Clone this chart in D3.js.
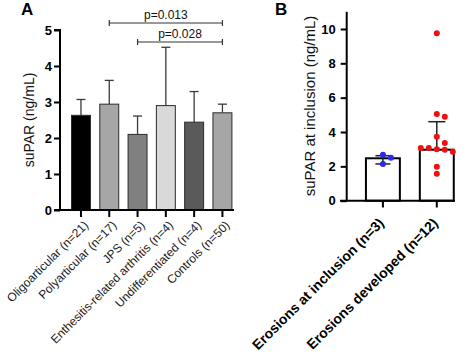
<!DOCTYPE html>
<html>
<head>
<meta charset="utf-8">
<script src="https://cdn.jsdelivr.net/npm/d3@7"></script>
<style>
  body { margin: 0; background: #fff; }
  svg { display: block; font-family: "Liberation Sans", Arial, sans-serif; }
</style>
</head>
<body>
<svg id="chart" width="474" height="352"></svg>
<script>
// panel A - suPAR by JIA subgroup (mean + SD)
const groupsA = ["Oligoarticular (n=21)", "Polyarticular (n=17)", "JPS (n=5)",
  "Enthesitis-related arthritis (n=4)", "Undifferentiated (n=4)", "Controls (n=50)"];
const meanA = [2.63, 2.94, 2.10, 2.90, 2.44, 2.70];
const sdTopA = [3.07, 3.60, 2.61, 4.52, 3.29, 2.94];
const fillA = ["#000000", "#a6a6a6", "#808080", "#d9d9d9", "#5a5a5a", "#a6a6a6"];
const pLabels = ["p=0.013", "p=0.028"];
const pPairs = [[1, 5], [2, 5]];

// panel B - erosions
const groupsB = ["Erosions at inclusion (n=3)", "Erosions developed (n=12)"];
const barB = [2.47, 2.97];
const errHighB = [2.62, 4.60];
const errLowB = [2.14, null];
const pointsB = [
  [2.68, 2.50, 2.14],
  [9.75, 5.05, 4.89, 3.73, 3.36, 3.07, 3.07, 2.99, 2.97, 2.85, 1.98, 1.57]
];
const dotColor = ["#2a2ae8", "#ee1111"];

const svg = d3.select("#chart");

// ---------- panel A ----------
let xA = d3.scaleBand().domain(groupsA).range([60, 243.4]).paddingInner(0.33).paddingOuter(0.406);
let yA = d3.scaleLinear().domain([0, 5]).range([210, 30]);

let gA = svg.append("g");

gA.selectAll("rect.bar")
  .data(groupsA)
  .join("rect")
  .attr("class", "bar")
  .attr("x", d => xA(d))
  .attr("width", xA.bandwidth())
  .attr("y", (d, i) => yA(meanA[i]))
  .attr("height", (d, i) => yA(0) - yA(meanA[i]))
  .attr("fill", (d, i) => fillA[i])
  .attr("stroke", "#2b2b2b")
  .attr("stroke-width", 1);

let errA = gA.append("g").attr("stroke", "#3a3a3a").attr("stroke-width", 1.3);
groupsA.forEach((g, i) => {
  let cx = xA(g) + xA.bandwidth() / 2;
  errA.append("line").attr("x1", cx).attr("x2", cx).attr("y1", yA(meanA[i])).attr("y2", yA(sdTopA[i]));
  errA.append("line").attr("x1", cx - 4.5).attr("x2", cx + 4.5).attr("y1", yA(sdTopA[i])).attr("y2", yA(sdTopA[i]));
});

// y axis
gA.append("g")
  .attr("transform", "translate(60,0)")
  .call(d3.axisLeft(yA).ticks(5).tickSize(6).tickPadding(2).tickFormat(d3.format("d")))
  .call(g => g.select(".domain").attr("stroke", "#000").attr("stroke-width", 2).attr("d", "M0,210V30H-6"))
  .call(g => g.selectAll(".tick line").attr("stroke", "#000").attr("stroke-width", 2))
  .call(g => g.selectAll(".tick text").attr("fill", "#000").style("font-size", "13px").style("font-weight", "bold")
    .style("font-family", "Liberation Sans, Arial, sans-serif"));

// x axis line + ticks
gA.append("line").attr("x1", 54).attr("x2", 234).attr("y1", 210).attr("y2", 210)
  .attr("stroke", "#000").attr("stroke-width", 2);
gA.selectAll("line.xt")
  .data(groupsA)
  .join("line")
  .attr("class", "xt")
  .attr("x1", d => xA(d) + xA.bandwidth() / 2)
  .attr("x2", d => xA(d) + xA.bandwidth() / 2)
  .attr("y1", 210).attr("y2", 217)
  .attr("stroke", "#000").attr("stroke-width", 2);

gA.selectAll("text.xl")
  .data(groupsA)
  .join("text")
  .attr("class", "xl")
  .attr("transform", d => `translate(${xA(d) + xA.bandwidth() / 2 + 8},226) rotate(-45)`)
  .attr("text-anchor", "end")
  .style("font-size", "12px")
  .attr("fill", "#1a1a1a")
  .text(d => d);

gA.append("text")
  .attr("transform", "translate(34,120) rotate(-90)")
  .attr("text-anchor", "middle")
  .style("font-size", "14px")
  .attr("fill", "#111")
  .text("suPAR (ng/mL)");

// significance brackets
let brY = [23, 42];
pPairs.forEach((pr, i) => {
  let x1 = xA(groupsA[pr[0]]) + xA.bandwidth() / 2;
  let x2 = xA(groupsA[pr[1]]) + xA.bandwidth() / 2;
  let b = gA.append("g").attr("stroke", "#333").attr("stroke-width", 1.2);
  b.append("line").attr("x1", x1).attr("x2", x2).attr("y1", brY[i]).attr("y2", brY[i]);
  b.append("line").attr("x1", x1).attr("x2", x1).attr("y1", brY[i] - 3).attr("y2", brY[i] + 3);
  b.append("line").attr("x1", x2).attr("x2", x2).attr("y1", brY[i] - 3).attr("y2", brY[i] + 3);
  gA.append("text")
    .attr("x", (x1 + x2) / 2).attr("y", brY[i] - 4)
    .attr("text-anchor", "middle")
    .style("font-size", "12px")
    .attr("fill", "#111")
    .text(pLabels[i]);
});

svg.append("text").attr("x", 21).attr("y", 15).style("font-size", "17px").style("font-weight", "bold").text("A");

// ---------- panel B ----------
let xB = d3.scaleBand().domain(groupsB).range([346.7, 473]).paddingInner(0.37).paddingOuter(0.357);
let yB = d3.scaleLinear().domain([0, 11]).range([200.7, 11.8]);

let gB = svg.append("g");

gB.selectAll("rect.bar")
  .data(groupsB)
  .join("rect")
  .attr("class", "bar")
  .attr("x", d => xB(d))
  .attr("width", xB.bandwidth())
  .attr("y", (d, i) => yB(barB[i]))
  .attr("height", (d, i) => yB(0) - yB(barB[i]))
  .attr("fill", "#fff")
  .attr("stroke", "#000")
  .attr("stroke-width", 2);

let errB = gB.append("g").attr("stroke", "#222").attr("stroke-width", 1.5);
groupsB.forEach((g, i) => {
  let cx = xB(g) + xB.bandwidth() / 2;
  let cap = i === 0 ? 7.5 : 8.5;
  errB.append("line").attr("x1", cx).attr("x2", cx).attr("y1", yB(barB[i])).attr("y2", yB(errHighB[i]));
  errB.append("line").attr("x1", cx - cap).attr("x2", cx + cap).attr("y1", yB(errHighB[i])).attr("y2", yB(errHighB[i]));
  if (errLowB[i] != null) {
    errB.append("line").attr("x1", cx).attr("x2", cx).attr("y1", yB(barB[i])).attr("y2", yB(errLowB[i]));
    errB.append("line").attr("x1", cx - cap).attr("x2", cx + cap).attr("y1", yB(errLowB[i])).attr("y2", yB(errLowB[i]));
  }
});

// simple beeswarm: points close in y share a row and are centred, lone points dodge sideways
function swarm(vals, cx) {
  let order = vals.map((v, i) => i).sort((a, b) => vals[b] - vals[a]);
  let rows = [];
  order.forEach(i => {
    let last = rows[rows.length - 1];
    if (last && Math.abs(yB(vals[i]) - yB(vals[last[last.length - 1]])) < 2.5) last.push(i);
    else rows.push([i]);
  });
  let out = [], step = 8;
  rows.forEach(r => {
    if (r.length > 1) {
      let s = vals.length < 5 ? 12 : step;
      r.forEach((i, k) => out.push({v: vals[i], x: cx + (k - (r.length - 1) / 2) * s, y: yB(vals[i])}));
    } else {
      let y = yB(vals[r[0]]);
      for (let off of [0, step, -step, 2 * step]) {
        let ok = out.every(p => Math.hypot(p.x - (cx + off), p.y - y) >= 6.5);
        if (ok) { out.push({v: vals[r[0]], x: cx + off, y: y}); break; }
      }
    }
  });
  return out;
}

groupsB.forEach((g, i) => {
  let cx = xB(g) + xB.bandwidth() / 2;
  gB.append("g").selectAll("circle")
    .data(swarm(pointsB[i], cx))
    .join("circle")
    .attr("cx", d => d.x)
    .attr("cy", d => d.y)
    .attr("r", 3)
    .attr("fill", dotColor[i]);
});

gB.append("g")
  .attr("transform", "translate(346.7,0)")
  .call(d3.axisLeft(yB).tickValues([0, 2, 4, 6, 8, 10]).tickSize(6).tickPadding(5))
  .call(g => g.select(".domain").attr("stroke", "#000").attr("stroke-width", 2).attr("d", "M0,200.7V11.8"))
  .call(g => g.selectAll(".tick line").attr("stroke", "#000").attr("stroke-width", 2))
  .call(g => g.selectAll(".tick text").attr("fill", "#000").style("font-size", "13px").style("font-weight", "bold")
    .style("font-family", "Liberation Sans, Arial, sans-serif"));

gB.append("line").attr("x1", 340).attr("x2", 455).attr("y1", 200.7).attr("y2", 200.7)
  .attr("stroke", "#000").attr("stroke-width", 2);
gB.selectAll("line.xt")
  .data(groupsB)
  .join("line")
  .attr("class", "xt")
  .attr("x1", d => xB(d) + xB.bandwidth() / 2)
  .attr("x2", d => xB(d) + xB.bandwidth() / 2)
  .attr("y1", 200.7).attr("y2", 207.5)
  .attr("stroke", "#000").attr("stroke-width", 2);

gB.selectAll("text.xl")
  .data(groupsB)
  .join("text")
  .attr("class", "xl")
  .attr("transform", d => `translate(${xB(d) + xB.bandwidth() / 2 + 2},224) rotate(-45)`)
  .attr("text-anchor", "end")
  .style("font-size", "14px")
  .style("font-weight", "bold")
  .attr("fill", "#000")
  .text(d => d);

gB.append("text")
  .attr("transform", "translate(315,106) rotate(-90)")
  .attr("text-anchor", "middle")
  .style("font-size", "15px")
  .attr("fill", "#111")
  .text("suPAR at inclusion (ng/mL)");

svg.append("text").attr("x", 275).attr("y", 15).style("font-size", "17px").style("font-weight", "bold").text("B");
</script>
</body>
</html>
